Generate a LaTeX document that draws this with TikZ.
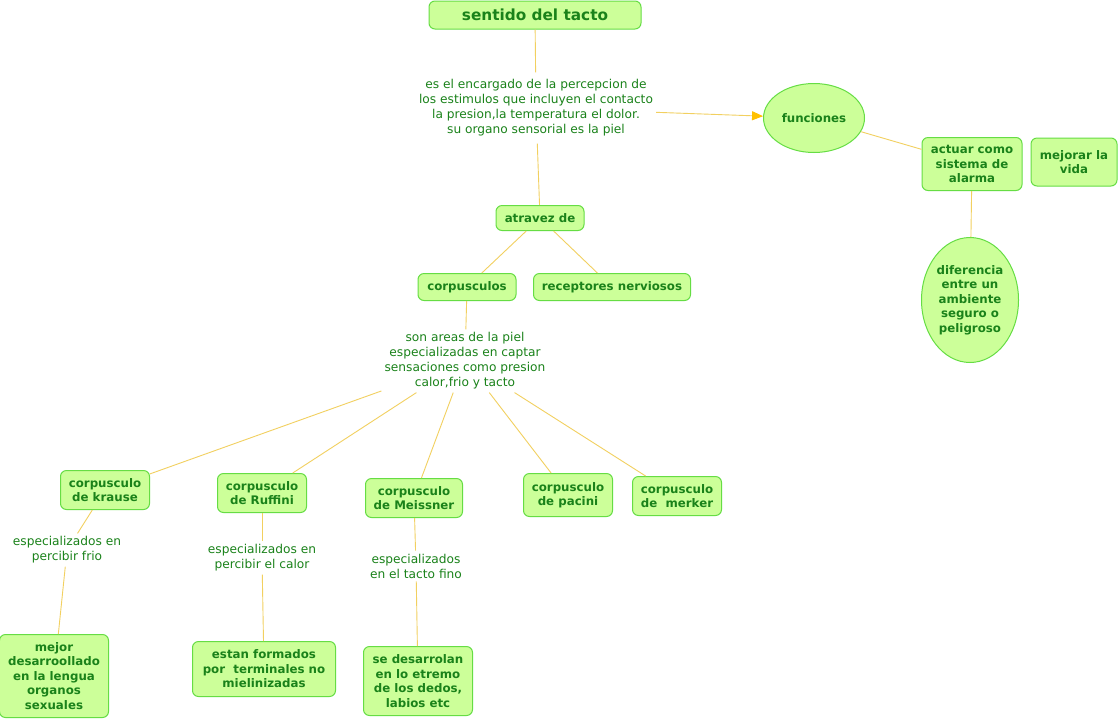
\documentclass[tikz,border=0pt]{standalone}
\usepackage{fontspec}
\setmainfont{DejaVu Sans}
\usetikzlibrary{arrows.meta,positioning,shapes.geometric,calc}
\definecolor{leaf}{HTML}{CCFF99}
\definecolor{edge}{HTML}{66DD44}
\definecolor{ink}{HTML}{1A821A}
\definecolor{wire}{HTML}{F2D060}
\definecolor{tip}{HTML}{FFC000}
\begin{document}
\begin{tikzpicture}[x=1pt, y=-1pt,
  box/.style={draw=edge, fill=leaf, rounded corners=6pt, line width=1pt, align=center,
    text=ink, inner sep=1pt, font=\bfseries\fontsize{11.8}{14.5}\selectfont},
  oval/.style={box, ellipse, inner sep=0pt},
  note/.style={align=center, text=ink, inner sep=3pt, font=\fontsize{12.2}{15}\selectfont},
  link/.style={draw=wire, line width=0.9pt},
  arr/.style={link, -{Stealth[length=11pt, width=9pt, inset=0pt, color=tip]}}
]
  \useasboundingbox (0,0) rectangle (1119,721);
  \fill[white] (0,0) rectangle (1119,721);

  % top
  \node[box, minimum width=212, minimum height=28, font=\bfseries\fontsize{15.3}{18}\selectfont] (tacto) at (535,15) {sentido del tacto};
  \node[note, inner ysep=7pt] (desc) at (536,108) {es el encargado de la percepcion de\\los estimulos que incluyen el contacto\\la presion,la temperatura el dolor.\\su organo sensorial es la piel};

  % right branch
  \node[oval, minimum width=101, minimum height=69] (func) at (814,118) {funciones};
  \node[box, minimum width=100, minimum height=53] (alarma) at (972,164) {actuar como\\sistema de\\alarma};
  \node[box, minimum width=86, minimum height=48] (vida) at (1074,162) {mejorar la\\vida};
  \node[oval, minimum width=97, minimum height=125] (dif) at (970,300) {diferencia\\entre un\\ambiente\\seguro o\\peligroso};

  % middle
  \node[box, minimum width=88, minimum height=25] (atravez) at (540,218) {atravez de};
  \node[box, minimum width=98, minimum height=27] (corp) at (467,287) {corpusculos};
  \node[box, minimum width=157, minimum height=27] (recep) at (612,287) {receptores nerviosos};
  \node[note] (areas) at (465,361) {son areas de la piel\\especializadas en captar\\sensaciones como presion\\calor,frio y tacto};

  % corpusculos
  \node[box, minimum width=89, minimum height=39] (krause) at (105,490) {corpusculo\\de krause};
  \node[box, minimum width=89, minimum height=39] (ruffini) at (262,493) {corpusculo\\de Ruffini};
  \node[box, minimum width=97, minimum height=39] (meissner) at (414,498) {corpusculo\\de Meissner};
  \node[box, minimum width=89, minimum height=43] (pacini) at (568,495) {corpusculo\\de pacini};
  \node[box, minimum width=89, minimum height=39] (merker) at (677,496) {corpusculo\\de~ merker};

  \node[note] (frio) at (67,550) {especializados en\\percibir frio};
  \node[note] (calor) at (262,558) {especializados en\\percibir el calor};
  \node[note] (fino) at (416,566) {especializados\\en el tacto fino};

  \node[box, minimum width=109, minimum height=83] (lengua) at (54,676) {mejor\\desarroollado\\en la lengua\\organos\\sexuales};
  \node[box, minimum width=143, minimum height=55] (termin) at (264,669) {estan formados\\por~ terminales no\\mielinizadas};
  \node[box, minimum width=109, minimum height=69] (dedos) at (418,681) {se desarrolan\\en lo etremo\\de los dedos,\\labios etc};

  % connectors
  \draw[link] (tacto) -- (desc);
  \draw[arr] (desc) -- (func);
  \draw[link] (func) -- (alarma);
  \draw[link] (alarma) -- (dif);
  \draw[link] (desc) -- (atravez);
  \draw[link] (atravez) -- (corp);
  \draw[link] (atravez) -- (recep);
  \draw[link] (corp) -- (areas);
  \foreach \c in {krause,ruffini,meissner,pacini,merker}
    \draw[link] (areas) -- (\c);
  \draw[link] (krause) -- (frio);
  \draw[link] (frio) -- (lengua);
  \draw[link] (ruffini) -- (calor);
  \draw[link] (calor) -- (termin);
  \draw[link] (meissner) -- (fino);
  \draw[link] (fino) -- (dedos);
\end{tikzpicture}
\end{document}
